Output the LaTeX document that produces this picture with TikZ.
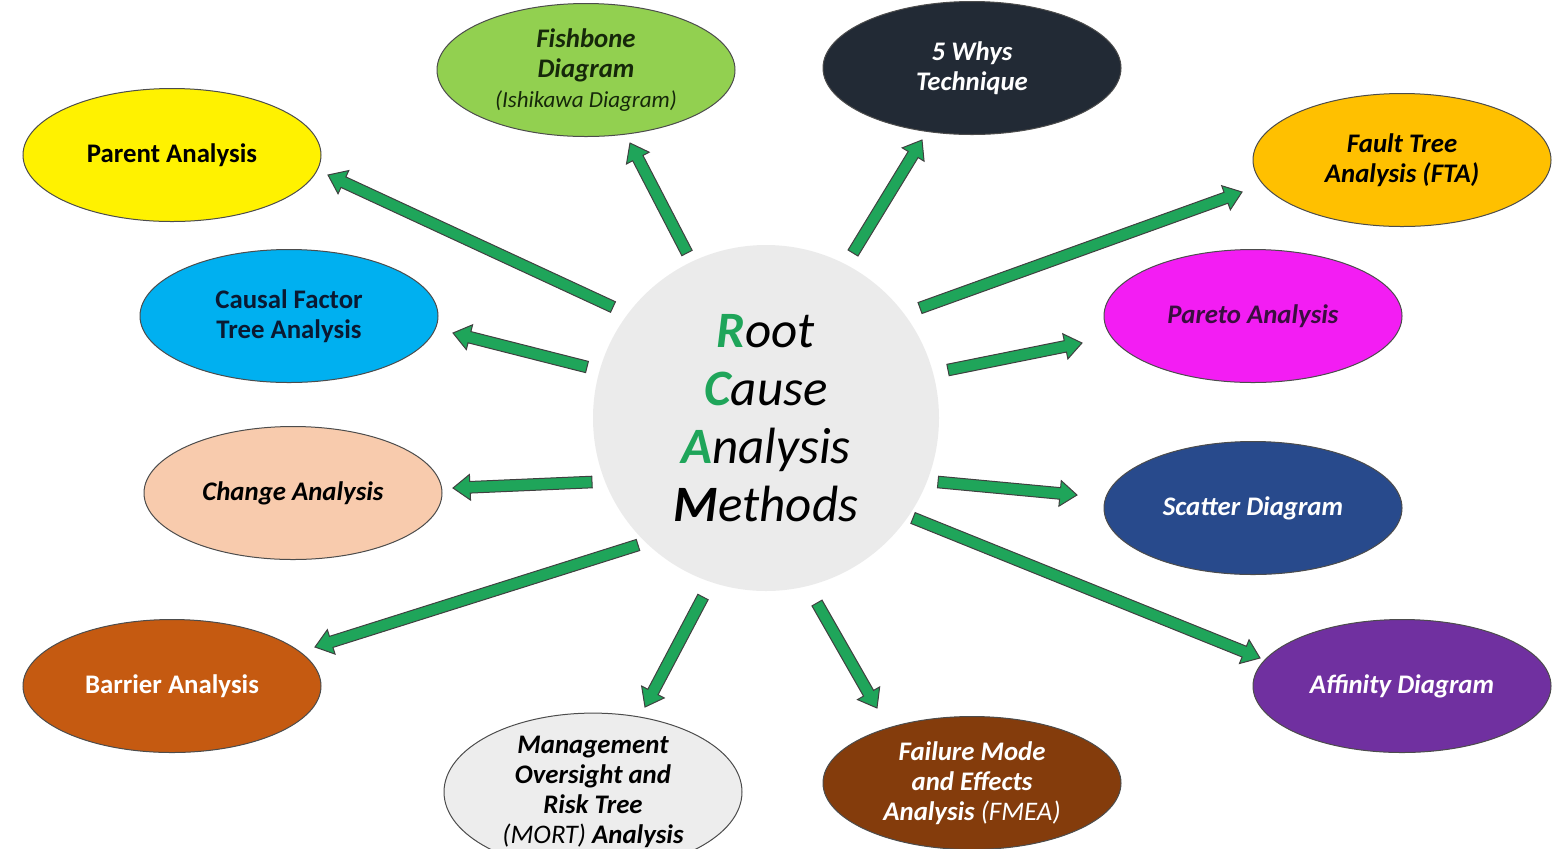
\documentclass[tikz,border=0pt]{standalone}
\usepackage{fontspec}
\setmainfont{Carlito}
\usepackage{tikz}
\usetikzlibrary{arrows.meta,shapes.geometric,calc}

\definecolor{rcagreen}{HTML}{1FA55A}
\definecolor{rcagray}{HTML}{EBEBEB}

\newcommand{\rcaarrow}[2]{%
  \coordinate (hb) at ($(#2)!8.5pt!(#1)$);
  \draw[fill=rcagreen, draw=black!75, line width=0.5pt, line join=miter]
    ($(#1)!2.9pt!90:(#2)$) -- ($(hb)!2.9pt!90:(#2)$) -- ($(hb)!6.4pt!90:(#2)$)
    -- (#2) -- ($(hb)!6.4pt!-90:(#2)$) -- ($(hb)!2.9pt!-90:(#2)$)
    -- ($(#1)!2.9pt!-90:(#2)$) -- cycle;}

\begin{document}
\begin{tikzpicture}[
  x=0.5pt, y=-0.5pt,
  meth/.style={ellipse, draw=black!70, line width=0.5pt, minimum width=149pt, minimum height=66.5pt, inner sep=0pt, align=center, font=\fontsize{13.4}{15}\selectfont\bfseries\itshape},
  up/.style={font=\fontsize{13.4}{15}\selectfont\bfseries},
]
\useasboundingbox (0,0) rectangle (1558,848);
\clip (0,0) rectangle (1558,848);
\node[circle, fill=rcagray, minimum size=173pt, inner sep=0pt, align=center, font=\fontsize{25.5}{29}\selectfont\itshape] (rca) at (766,418)
  {{\bfseries\color{rcagreen}R}oot\\{\bfseries\color{rcagreen}C}ause\\{\bfseries\color{rcagreen}A}nalysis\\{\bfseries M}ethods};
\node[meth, up, fill=yellow] (parent) at (172,155) {Parent Analysis};
\node[meth, fill={rgb,255:red,146;green,208;blue,80}, text={rgb,255:red,22;green,40;blue,10}] (fishbone) at (586,70) {Fishbone\\Diagram\\{\fontsize{11.5}{14}\selectfont\mdseries(Ishikawa Diagram)}};
\node[meth, fill={rgb,255:red,34;green,42;blue,53}, text=white] (whys) at (972,68) {5 Whys\\Technique};
\node[meth, fill={rgb,255:red,255;green,192;blue,0}] (fta) at (1402,160) {Fault Tree\\Analysis (FTA)};
\node[meth, fill={rgb,255:red,243;green,29;blue,243}, text={rgb,255:red,58;green,14;blue,63}] (pareto) at (1253,316) {Pareto Analysis};
\node[meth, fill={rgb,255:red,40;green,74;blue,140}, text=white] (scatter) at (1253,508) {Scatter Diagram};
\node[meth, fill={rgb,255:red,112;green,48;blue,160}, text=white] (affinity) at (1402,686) {Affinity Diagram};
\node[meth, fill={rgb,255:red,132;green,60;blue,12}, text=white] (fmea) at (972,783) {Failure Mode\\and Effects\\Analysis {\mdseries(FMEA)}};
\node[meth, fill={rgb,255:red,237;green,237;blue,237}] (mort) at (593,792) {Management\\Oversight and\\Risk Tree\\{\mdseries(MORT)} Analysis};
\node[meth, up, fill={rgb,255:red,197;green,90;blue,17}, text=white] (barrier) at (172,686) {Barrier Analysis};
\node[meth, fill={rgb,255:red,248;green,203;blue,173}] (change) at (293,493) {Change Analysis};
\node[meth, up, fill={rgb,255:red,0;green,176;blue,240}, text={rgb,255:red,10;green,25;blue,50}] (causal) at (289,316) {Causal Factor\\Tree Analysis};
\coordinate (a-parent) at (613,307);
\coordinate (h-parent) at (328,175);
\coordinate (a-causal) at (587,367);
\coordinate (h-causal) at (453,333);
\coordinate (a-fishbone) at (687,253);
\coordinate (h-fishbone) at (630,143);
\coordinate (a-whys) at (853,253);
\coordinate (h-whys) at (922,140);
\coordinate (a-fta) at (920,308);
\coordinate (h-fta) at (1242,192);
\coordinate (a-pareto) at (948,370);
\coordinate (h-pareto) at (1082,343);
\coordinate (a-scatter) at (938,482);
\coordinate (h-scatter) at (1077,495);
\coordinate (a-affinity) at (913,518);
\coordinate (h-affinity) at (1260,658);
\coordinate (a-fmea) at (817,603);
\coordinate (h-fmea) at (877,708);
\coordinate (a-mort) at (703,597);
\coordinate (h-mort) at (645,707);
\coordinate (a-change) at (592,482);
\coordinate (h-change) at (453,488);
\coordinate (a-barrier) at (638,545);
\coordinate (h-barrier) at (315,647);
\rcaarrow{a-parent}{h-parent}
\rcaarrow{a-causal}{h-causal}
\rcaarrow{a-fishbone}{h-fishbone}
\rcaarrow{a-whys}{h-whys}
\rcaarrow{a-fta}{h-fta}
\rcaarrow{a-pareto}{h-pareto}
\rcaarrow{a-scatter}{h-scatter}
\rcaarrow{a-affinity}{h-affinity}
\rcaarrow{a-fmea}{h-fmea}
\rcaarrow{a-mort}{h-mort}
\rcaarrow{a-change}{h-change}
\rcaarrow{a-barrier}{h-barrier}
\end{tikzpicture}
\end{document}
